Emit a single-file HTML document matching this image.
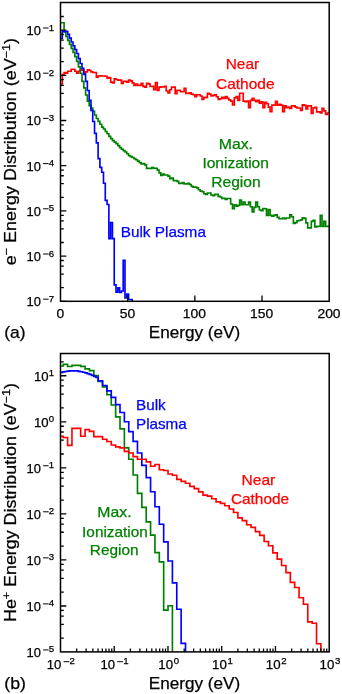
<!DOCTYPE html>
<html><head><meta charset="utf-8"><style>
html,body{margin:0;padding:0;background:#fff;}
svg{display:block;font-family:"Liberation Sans",sans-serif;will-change:transform;}
text{stroke-width:0.25px;}
</style></head><body>
<svg width="342" height="694" viewBox="0 0 342 694">
<rect width="342" height="694" fill="#fff"/>
<clipPath id="ca"><rect x="60.5" y="2.5" width="268.7" height="298.8"/></clipPath>
<clipPath id="cb"><rect x="60.5" y="353.5" width="268.7" height="298.4"/></clipPath>
<path d="M60.5,84 L62.29,84 L62.29,74.5 L64.08,74.5 L64.08,72.5 L65.87,72.5 L65.87,73.2 L67.67,73.2 L67.67,71.2 L69.46,71.2 L69.46,71.2 L71.25,71.2 L71.25,69.2 L73.04,69.2 L73.04,69.2 L74.83,69.2 L74.83,71.2 L76.62,71.2 L76.62,73.2 L78.41,73.2 L78.41,71.2 L80.2,71.2 L80.2,69.9 L82,69.9 L82,70.5 L83.79,70.5 L83.79,73.2 L85.58,73.2 L85.58,71.8 L87.37,71.8 L87.37,69.9 L89.16,69.9 L89.16,70.5 L90.95,70.5 L90.95,71.8 L92.74,71.8 L92.74,72.5 L94.54,72.5 L94.54,72.5 L96.33,72.5 L96.33,77.1 L98.12,77.1 L98.12,76 L99.91,76 L99.91,75.8 L101.7,75.8 L101.7,76 L103.49,76 L103.49,76 L105.28,76 L105.28,76.2 L107.07,76.2 L107.07,78.2 L108.87,78.2 L108.87,77.5 L110.66,77.5 L110.66,82.1 L112.45,82.1 L112.45,82.8 L114.24,82.8 L114.24,78.8 L116.03,78.8 L116.03,79.5 L117.82,79.5 L117.82,80.1 L119.61,80.1 L119.61,80.1 L121.41,80.1 L121.41,83.4 L123.2,83.4 L123.2,81.4 L124.99,81.4 L124.99,81.4 L126.78,81.4 L126.78,82.1 L128.57,82.1 L128.57,80.1 L130.36,80.1 L130.36,80.8 L132.15,80.8 L132.15,82.8 L133.94,82.8 L133.94,85.4 L135.74,85.4 L135.74,84.1 L137.53,84.1 L137.53,85.4 L139.32,85.4 L139.32,85.4 L141.11,85.4 L141.11,83.2 L142.9,83.2 L142.9,86.4 L144.69,86.4 L144.69,87.1 L146.48,87.1 L146.48,83.2 L148.28,83.2 L148.28,83.8 L150.07,83.8 L150.07,86.4 L151.86,86.4 L151.86,86.4 L153.65,86.4 L153.65,89.7 L155.44,89.7 L155.44,82.5 L157.23,82.5 L157.23,90.4 L159.02,90.4 L159.02,87.1 L160.81,87.1 L160.81,86.8 L162.61,86.8 L162.61,86.8 L164.4,86.8 L164.4,86.4 L166.19,86.4 L166.19,91 L167.98,91 L167.98,93 L169.77,93 L169.77,89.7 L171.56,89.7 L171.56,87.1 L173.35,87.1 L173.35,87.1 L175.15,87.1 L175.15,93.7 L176.94,93.7 L176.94,90.4 L178.73,90.4 L178.73,90.4 L180.52,90.4 L180.52,91.7 L182.31,91.7 L182.31,91.7 L184.1,91.7 L184.1,88.2 L185.89,88.2 L185.89,93.4 L187.68,93.4 L187.68,93.4 L189.48,93.4 L189.48,92.8 L191.27,92.8 L191.27,94.1 L193.06,94.1 L193.06,94.7 L194.85,94.7 L194.85,96.7 L196.64,96.7 L196.64,94.7 L198.43,94.7 L198.43,94.7 L200.22,94.7 L200.22,96 L202.02,96 L202.02,99.3 L203.81,99.3 L203.81,97.4 L205.6,97.4 L205.6,97.4 L207.39,97.4 L207.39,93.4 L209.18,93.4 L209.18,94.1 L210.97,94.1 L210.97,96 L212.76,96 L212.76,95.4 L214.55,95.4 L214.55,94.7 L216.35,94.7 L216.35,96.7 L218.14,96.7 L218.14,99.3 L219.93,99.3 L219.93,98.7 L221.72,98.7 L221.72,97.4 L223.51,97.4 L223.51,98.4 L225.3,98.4 L225.3,96.5 L227.09,96.5 L227.09,98.4 L228.89,98.4 L228.89,99.8 L230.68,99.8 L230.68,101.1 L232.47,101.1 L232.47,105 L234.26,105 L234.26,97.8 L236.05,97.8 L236.05,96.5 L237.84,96.5 L237.84,100.4 L239.63,100.4 L239.63,93.2 L241.42,93.2 L241.42,93.2 L243.22,93.2 L243.22,101.1 L245.01,101.1 L245.01,101.7 L246.8,101.7 L246.8,101.1 L248.59,101.1 L248.59,107.7 L250.38,107.7 L250.38,100.4 L252.17,100.4 L252.17,98.4 L253.96,98.4 L253.96,100.4 L255.76,100.4 L255.76,101.7 L257.55,101.7 L257.55,100.4 L259.34,100.4 L259.34,103.1 L261.13,103.1 L261.13,101.7 L262.92,101.7 L262.92,107.7 L264.71,107.7 L264.71,102.4 L266.5,102.4 L266.5,103.7 L268.29,103.7 L268.29,107.1 L270.09,107.1 L270.09,111.7 L271.88,111.7 L271.88,105.1 L273.67,105.1 L273.67,105.1 L275.46,105.1 L275.46,101.2 L277.25,101.2 L277.25,105.1 L279.04,105.1 L279.04,104.4 L280.83,104.4 L280.83,105.1 L282.63,105.1 L282.63,111.7 L284.42,111.7 L284.42,105.8 L286.21,105.8 L286.21,107.7 L288,107.7 L288,107.1 L289.79,107.1 L289.79,108.4 L291.58,108.4 L291.58,105.8 L293.37,105.8 L293.37,105.8 L295.16,105.8 L295.16,107.1 L296.96,107.1 L296.96,108 L298.75,108 L298.75,108 L300.54,108 L300.54,110.4 L302.33,110.4 L302.33,104.9 L304.12,104.9 L304.12,105.4 L305.91,105.4 L305.91,108.9 L307.7,108.9 L307.7,105.9 L309.5,105.9 L309.5,105.9 L311.29,105.9 L311.29,113.4 L313.08,113.4 L313.08,107.9 L314.87,107.9 L314.87,107.4 L316.66,107.4 L316.66,111.9 L318.45,111.9 L318.45,111.9 L320.24,111.9 L320.24,112.9 L322.03,112.9 L322.03,108.4 L323.83,108.4 L323.83,110.9 L325.62,110.9 L325.62,114.4 L327.41,114.4 L327.41,113 L329.2,113" fill="none" stroke="#ff0000" stroke-width="1.65" stroke-linejoin="miter" clip-path="url(#ca)"/>
<path d="M60.5,22.7 L62.29,22.7 L62.29,22.7 L64.08,22.7 L64.08,32.2 L65.87,32.2 L65.87,36.3 L67.67,36.3 L67.67,40.32 L69.46,40.32 L69.46,44.34 L71.25,44.34 L71.25,48.36 L73.04,48.36 L73.04,52.38 L74.83,52.38 L74.83,56.66 L76.62,56.66 L76.62,61.42 L78.41,61.42 L78.41,66.94 L80.2,66.94 L80.2,73.25 L82,73.25 L82,81.32 L83.79,81.32 L83.79,87.84 L85.58,87.84 L85.58,94.97 L87.37,94.97 L87.37,101.29 L89.16,101.29 L89.16,105.68 L90.95,105.68 L90.95,108.07 L92.74,108.07 L92.74,111.32 L94.54,111.32 L94.54,115.02 L96.33,115.02 L96.33,118.47 L98.12,118.47 L98.12,121.39 L99.91,121.39 L99.91,124.23 L101.7,124.23 L101.7,127.1 L103.49,127.1 L103.49,129.04 L105.28,129.04 L105.28,131.54 L107.07,131.54 L107.07,133.77 L108.87,133.77 L108.87,136.33 L110.66,136.33 L110.66,138.67 L112.45,138.67 L112.45,140.62 L114.24,140.62 L114.24,142.09 L116.03,142.09 L116.03,143.56 L117.82,143.56 L117.82,145.57 L119.61,145.57 L119.61,147.63 L121.41,147.63 L121.41,149.21 L123.2,149.21 L123.2,150.6 L124.99,150.6 L124.99,151.99 L126.78,151.99 L126.78,153.77 L128.57,153.77 L128.57,155.57 L130.36,155.57 L130.36,156.63 L132.15,156.63 L132.15,157.52 L133.94,157.52 L133.94,158.57 L135.74,158.57 L135.74,159.72 L137.53,159.72 L137.53,161.05 L139.32,161.05 L139.32,162.65 L141.11,162.65 L141.11,163.86 L142.9,163.86 L142.9,163.64 L144.69,163.64 L144.69,164.92 L146.48,164.92 L146.48,168.3 L148.28,168.3 L148.28,168.3 L150.07,168.3 L150.07,168.3 L151.86,168.3 L151.86,167.6 L153.65,167.6 L153.65,168.2 L155.44,168.2 L155.44,168.2 L157.23,168.2 L157.23,170.1 L159.02,170.1 L159.02,172.8 L160.81,172.8 L160.81,175.4 L162.61,175.4 L162.61,174.1 L164.4,174.1 L164.4,175 L166.19,175 L166.19,175 L167.98,175 L167.98,176.1 L169.77,176.1 L169.77,178.7 L171.56,178.7 L171.56,178 L173.35,178 L173.35,180.7 L175.15,180.7 L175.15,180.5 L176.94,180.5 L176.94,181.3 L178.73,181.3 L178.73,183.3 L180.52,183.3 L180.52,183.3 L182.31,183.3 L182.31,182.6 L184.1,182.6 L184.1,183.9 L185.89,183.9 L185.89,183.9 L187.68,183.9 L187.68,183.3 L189.48,183.3 L189.48,184.5 L191.27,184.5 L191.27,186.4 L193.06,186.4 L193.06,187.1 L194.85,187.1 L194.85,187.1 L196.64,187.1 L196.64,187.8 L198.43,187.8 L198.43,189.7 L200.22,189.7 L200.22,191.1 L202.02,191.1 L202.02,191.7 L203.81,191.7 L203.81,193.7 L205.6,193.7 L205.6,194.3 L207.39,194.3 L207.39,193 L209.18,193 L209.18,193 L210.97,193 L210.97,195 L212.76,195 L212.76,195.7 L214.55,195.7 L214.55,194.3 L216.35,194.3 L216.35,194.3 L218.14,194.3 L218.14,196.3 L219.93,196.3 L219.93,197 L221.72,197 L221.72,198.3 L223.51,198.3 L223.51,198.3 L225.3,198.3 L225.3,199.5 L227.09,199.5 L227.09,198.5 L228.89,198.5 L228.89,198.5 L230.68,198.5 L230.68,204 L232.47,204 L232.47,208.7 L234.26,208.7 L234.26,204.7 L236.05,204.7 L236.05,206.1 L237.84,206.1 L237.84,205.4 L239.63,205.4 L239.63,200.1 L241.42,200.1 L241.42,204.7 L243.22,204.7 L243.22,202.1 L245.01,202.1 L245.01,204.7 L246.8,204.7 L246.8,204.7 L248.59,204.7 L248.59,202.1 L250.38,202.1 L250.38,206.7 L252.17,206.7 L252.17,212 L253.96,212 L253.96,207.4 L255.76,207.4 L255.76,202.1 L257.55,202.1 L257.55,206.7 L259.34,206.7 L259.34,210 L261.13,210 L261.13,210.7 L262.92,210.7 L262.92,208.5 L264.71,208.5 L264.71,208.7 L266.5,208.7 L266.5,215.4 L268.29,215.4 L268.29,209.5 L270.09,209.5 L270.09,215.4 L271.88,215.4 L271.88,216.1 L273.67,216.1 L273.67,215.4 L275.46,215.4 L275.46,214.7 L277.25,214.7 L277.25,217.4 L279.04,217.4 L279.04,218.7 L280.83,218.7 L280.83,218.7 L282.63,218.7 L282.63,218 L284.42,218 L284.42,218.7 L286.21,218.7 L286.21,218 L288,218 L288,218 L289.79,218 L289.79,214.7 L291.58,214.7 L291.58,216.7 L293.37,216.7 L293.37,223.3 L295.16,223.3 L295.16,222.6 L296.96,222.6 L296.96,220.7 L298.75,220.7 L298.75,220.5 L300.54,220.5 L300.54,219.9 L302.33,219.9 L302.33,217.9 L304.12,217.9 L304.12,218.4 L305.91,218.4 L305.91,222.9 L307.7,222.9 L307.7,227.8 L309.5,227.8 L309.5,227.8 L311.29,227.8 L311.29,221.4 L313.08,221.4 L313.08,220.4 L314.87,220.4 L314.87,226.8 L316.66,226.8 L316.66,226.3 L318.45,226.3 L318.45,226.3 L320.24,226.3 L320.24,215.4 L322.03,215.4 L322.03,226.3 L323.83,226.3 L323.83,221.4 L325.62,221.4 L325.62,226.3 L327.41,226.3 L327.41,226.3 L329.2,226.3" fill="none" stroke="#008000" stroke-width="1.65" stroke-linejoin="miter" clip-path="url(#ca)"/>
<path d="M60.5,38.3 L62.29,38.3 L62.29,31.2 L64.08,31.2 L64.08,31.2 L65.87,31.2 L65.87,31.36 L67.67,31.36 L67.67,34.34 L69.46,34.34 L69.46,38.16 L71.25,38.16 L71.25,41.99 L73.04,41.99 L73.04,45.81 L74.83,45.81 L74.83,49.63 L76.62,49.63 L76.62,53.5 L78.41,53.5 L78.41,58.6 L80.2,58.6 L80.2,63.5 L82,63.5 L82,68.4 L83.79,68.4 L83.79,74.3 L85.58,74.3 L85.58,81.4 L87.37,81.4 L87.37,90.5 L89.16,90.5 L89.16,100.3 L90.95,100.3 L90.95,110.3 L92.74,110.3 L92.74,121.5 L94.54,121.5 L94.54,133.4 L96.33,133.4 L96.33,142.8 L98.12,142.8 L98.12,158.6 L99.91,158.6 L99.91,167.4 L101.7,167.4 L101.7,172.2 L103.49,172.2 L103.49,183.2 L105.28,183.2 L105.28,200.3 L107.07,200.3 L107.07,204.5 L108.87,204.5 L108.87,238.6 L110.66,238.6 L110.66,222.5 L112.45,222.5 L112.45,238.6 L114.24,238.6 L114.24,284.9 L116.03,284.9 L116.03,292.1 L117.82,292.1 L117.82,287.9 L119.61,287.9 L119.61,292.5 L121.41,292.5 L121.41,291 L123.2,291 L123.2,260.2 L124.99,260.2 L124.99,298 L126.78,298 L126.78,294 L128.57,294 L128.57,299.5 L130.36,299.5 L130.36,299.5 L132.15,299.5 L132.15,330 L133.94,330" fill="none" stroke="#0000ff" stroke-width="1.65" stroke-linejoin="miter" clip-path="url(#ca)"/>
<path d="M60.5,366 L63.23,366 L63.23,364.4 L67.6,364.4 L67.6,366.5 L71.97,366.5 L71.97,365.3 L76.33,365.3 L76.33,365.3 L80.7,365.3 L80.7,366.4 L85.07,366.4 L85.07,368.8 L89.44,368.8 L89.44,370.6 L93.8,370.6 L93.8,375.5 L98.17,375.5 L98.17,381.3 L102.54,381.3 L102.54,386.8 L106.9,386.8 L106.9,394.7 L111.27,394.7 L111.27,405 L115.64,405 L115.64,416.8 L120,416.8 L120,428.9 L124.37,428.9 L124.37,447.8 L128.74,447.8 L128.74,459.2 L133.1,459.2 L133.1,475 L137.47,475 L137.47,493.4 L141.84,493.4 L141.84,507.4 L146.21,507.4 L146.21,521.9 L150.57,521.9 L150.57,535.1 L154.94,535.1 L154.94,552.6 L159.31,552.6 L159.31,561.8 L163.67,561.8 L163.67,610.1 L168.04,610.1 L168.04,605.7 L172.41,605.7 L172.41,700 L176.77,700" fill="none" stroke="#008000" stroke-width="1.65" stroke-linejoin="miter" clip-path="url(#cb)"/>
<path d="M60.5,372.3 L62.72,372.3 L62.72,371.86 L64.93,371.86 L64.93,371.46 L67.15,371.46 L67.15,371.14 L69.36,371.14 L69.36,370.9 L71.58,370.9 L71.58,370.9 L73.79,370.9 L73.79,370.9 L76.01,370.9 L76.01,370.94 L78.23,370.94 L78.23,371.32 L80.44,371.32 L80.44,371.7 L82.66,371.7 L82.66,372.25 L84.87,372.25 L84.87,372.86 L87.09,372.86 L87.09,373.62 L89.31,373.62 L89.31,374.44 L91.52,374.44 L91.52,375.39 L93.74,375.39 L93.74,376.39 L95.95,376.39 L95.95,377.38 L98.17,377.38 L98.17,378 L98.17,380.9 L102.54,380.9 L102.54,385.5 L106.9,385.5 L106.9,390.8 L111.27,390.8 L111.27,397.4 L115.64,397.4 L115.64,404.6 L120,404.6 L120,412.5 L124.37,412.5 L124.37,421.7 L128.74,421.7 L128.74,431.6 L133.1,431.6 L133.1,441.4 L137.47,441.4 L137.47,453 L141.84,453 L141.84,465.4 L146.21,465.4 L146.21,477.6 L150.57,477.6 L150.57,491.7 L154.94,491.7 L154.94,506.7 L159.31,506.7 L159.31,524.2 L163.67,524.2 L163.67,541.8 L168.04,541.8 L168.04,561 L172.41,561 L172.41,582.9 L176.77,582.9 L176.77,609.2 L181.14,609.2 L181.14,643.4 L185.51,643.4 L185.51,700 L189.88,700" fill="none" stroke="#0000ff" stroke-width="1.65" stroke-linejoin="miter" clip-path="url(#cb)"/>
<path d="M60.5,436.4 L63.23,436.4 L63.23,437.5 L67.6,437.5 L67.6,445.4 L71.97,445.4 L71.97,428.3 L76.33,428.3 L76.33,428.3 L80.7,428.3 L80.7,436.2 L85.07,436.2 L85.07,429.6 L89.44,429.6 L89.44,431.3 L93.8,431.3 L93.8,436.6 L98.17,436.6 L98.17,436.6 L102.54,436.6 L102.54,439.2 L106.9,439.2 L106.9,441.5 L111.27,441.5 L111.27,445 L115.64,445 L115.64,446.8 L120,446.8 L120,447.8 L124.37,447.8 L124.37,451.3 L128.74,451.3 L128.74,453 L133.1,453 L133.1,456.6 L137.47,456.6 L137.47,459.2 L141.84,459.2 L141.84,459.2 L146.21,459.2 L146.21,461.8 L150.57,461.8 L150.57,466.2 L154.94,466.2 L154.94,464.5 L159.31,464.5 L159.31,469.7 L163.67,469.7 L163.67,470.5 L168.04,470.5 L168.04,474 L172.41,474 L172.41,475.2 L176.77,475.2 L176.77,479.44 L181.14,479.44 L181.14,481.37 L185.51,481.37 L185.51,483.26 L189.88,483.26 L189.88,486.35 L194.24,486.35 L194.24,488.69 L198.61,488.69 L198.61,491.84 L202.98,491.84 L202.98,495.05 L207.34,495.05 L207.34,496.11 L211.71,496.11 L211.71,498.73 L216.08,498.73 L216.08,501.8 L220.44,501.8 L220.44,503.32 L224.81,503.32 L224.81,505.74 L229.18,505.74 L229.18,509 L233.55,509 L233.55,512.53 L237.91,512.53 L237.91,517.85 L242.28,517.85 L242.28,520.55 L246.65,520.55 L246.65,524.78 L251.01,524.78 L251.01,527.3 L255.38,527.3 L255.38,531.59 L259.75,531.59 L259.75,535.34 L264.12,535.34 L264.12,541.5 L268.48,541.5 L268.48,545.75 L272.85,545.75 L272.85,552.84 L277.22,552.84 L277.22,559.1 L281.58,559.1 L281.58,565.49 L285.95,565.49 L285.95,572.6 L290.32,572.6 L290.32,582.3 L294.68,582.3 L294.68,587.5 L299.05,587.5 L299.05,597.7 L303.42,597.7 L303.42,604.2 L307.78,604.2 L307.78,621.8 L312.15,621.8 L312.15,623.2 L316.52,623.2 L316.52,643.7 L320.89,643.7 L320.89,700 L325.25,700" fill="none" stroke="#ff0000" stroke-width="1.65" stroke-linejoin="miter" clip-path="url(#cb)"/>
<path d="M60.5,301.3 H66.3 M60.5,287.69 H63.8 M60.5,274.09 H63.8 M60.5,266.13 H63.8 M60.5,260.48 H63.8 M60.5,256.1 H66.3 M60.5,242.49 H63.8 M60.5,228.89 H63.8 M60.5,220.93 H63.8 M60.5,215.28 H63.8 M60.5,210.9 H66.3 M60.5,197.29 H63.8 M60.5,183.69 H63.8 M60.5,175.73 H63.8 M60.5,170.08 H63.8 M60.5,165.7 H66.3 M60.5,152.09 H63.8 M60.5,138.49 H63.8 M60.5,130.53 H63.8 M60.5,124.88 H63.8 M60.5,120.5 H66.3 M60.5,106.89 H63.8 M60.5,93.29 H63.8 M60.5,85.33 H63.8 M60.5,79.68 H63.8 M60.5,75.3 H66.3 M60.5,61.69 H63.8 M60.5,48.09 H63.8 M60.5,40.13 H63.8 M60.5,34.48 H63.8 M60.5,30.1 H66.3 M60.5,16.49 H63.8 M127.67,301.3 V295.5 M194.85,301.3 V295.5 M262.02,301.3 V295.5 M60.5,638.19 H63.8 M60.5,624.33 H63.8 M60.5,616.22 H63.8 M60.5,610.46 H63.8 M60.5,606 H66.3 M60.5,592.14 H63.8 M60.5,578.28 H63.8 M60.5,570.17 H63.8 M60.5,564.41 H63.8 M60.5,559.95 H66.3 M60.5,546.09 H63.8 M60.5,532.23 H63.8 M60.5,524.12 H63.8 M60.5,518.36 H63.8 M60.5,513.9 H66.3 M60.5,500.04 H63.8 M60.5,486.18 H63.8 M60.5,478.07 H63.8 M60.5,472.31 H63.8 M60.5,467.85 H66.3 M60.5,453.99 H63.8 M60.5,440.13 H63.8 M60.5,432.02 H63.8 M60.5,426.26 H63.8 M60.5,421.8 H66.3 M60.5,407.94 H63.8 M60.5,394.08 H63.8 M60.5,385.97 H63.8 M60.5,380.21 H63.8 M60.5,375.75 H66.3 M60.5,361.89 H63.8 M76.68,651.9 V648.6 M86.14,651.9 V648.6 M92.85,651.9 V648.6 M98.06,651.9 V648.6 M102.32,651.9 V648.6 M105.92,651.9 V648.6 M109.03,651.9 V648.6 M111.78,651.9 V648.6 M114.24,651.9 V646.1 M130.42,651.9 V648.6 M139.88,651.9 V648.6 M146.59,651.9 V648.6 M151.8,651.9 V648.6 M156.06,651.9 V648.6 M159.66,651.9 V648.6 M162.77,651.9 V648.6 M165.52,651.9 V648.6 M167.98,651.9 V646.1 M184.16,651.9 V648.6 M193.62,651.9 V648.6 M200.33,651.9 V648.6 M205.54,651.9 V648.6 M209.8,651.9 V648.6 M213.4,651.9 V648.6 M216.51,651.9 V648.6 M219.26,651.9 V648.6 M221.72,651.9 V646.1 M237.9,651.9 V648.6 M247.36,651.9 V648.6 M254.07,651.9 V648.6 M259.28,651.9 V648.6 M263.54,651.9 V648.6 M267.14,651.9 V648.6 M270.25,651.9 V648.6 M273,651.9 V648.6 M275.46,651.9 V646.1 M291.64,651.9 V648.6 M301.1,651.9 V648.6 M307.81,651.9 V648.6 M313.02,651.9 V648.6 M317.28,651.9 V648.6 M320.88,651.9 V648.6 M323.99,651.9 V648.6 M326.74,651.9 V648.6" stroke="#000" stroke-width="1.3" fill="none"/>
<rect x="60.5" y="2.5" width="268.7" height="298.8" fill="none" stroke="#000" stroke-width="1.5"/>
<rect x="60.5" y="353.5" width="268.7" height="298.4" fill="none" stroke="#000" stroke-width="1.5"/>
<text x="26.47" y="306.2" font-size="13.1" fill="#000" stroke="#000" textLength="14.35" lengthAdjust="spacingAndGlyphs">10</text>
<path d="M43.1,299.2 H48.6" stroke="#000" stroke-width="1"/>
<text x="48.87" y="301.7" font-size="9.2" fill="#000" stroke="#000" textLength="5.37" lengthAdjust="spacingAndGlyphs">7</text>
<text x="26.47" y="261" font-size="13.1" fill="#000" stroke="#000" textLength="14.35" lengthAdjust="spacingAndGlyphs">10</text>
<path d="M43.1,254 H48.6" stroke="#000" stroke-width="1"/>
<text x="48.87" y="256.5" font-size="9.2" fill="#000" stroke="#000" textLength="5.37" lengthAdjust="spacingAndGlyphs">6</text>
<text x="26.47" y="215.8" font-size="13.1" fill="#000" stroke="#000" textLength="14.35" lengthAdjust="spacingAndGlyphs">10</text>
<path d="M43.1,208.8 H48.6" stroke="#000" stroke-width="1"/>
<text x="48.78" y="211.3" font-size="9.2" fill="#000" stroke="#000" textLength="5.37" lengthAdjust="spacingAndGlyphs">5</text>
<text x="26.47" y="170.6" font-size="13.1" fill="#000" stroke="#000" textLength="14.35" lengthAdjust="spacingAndGlyphs">10</text>
<path d="M43.1,163.6 H48.6" stroke="#000" stroke-width="1"/>
<text x="48.68" y="166.1" font-size="9.2" fill="#000" stroke="#000" textLength="5.37" lengthAdjust="spacingAndGlyphs">4</text>
<text x="26.47" y="125.4" font-size="13.1" fill="#000" stroke="#000" textLength="14.35" lengthAdjust="spacingAndGlyphs">10</text>
<path d="M43.1,118.4 H48.6" stroke="#000" stroke-width="1"/>
<text x="48.87" y="120.9" font-size="9.2" fill="#000" stroke="#000" textLength="5.37" lengthAdjust="spacingAndGlyphs">3</text>
<text x="26.47" y="80.2" font-size="13.1" fill="#000" stroke="#000" textLength="14.35" lengthAdjust="spacingAndGlyphs">10</text>
<path d="M43.1,73.2 H48.6" stroke="#000" stroke-width="1"/>
<text x="48.87" y="75.7" font-size="9.2" fill="#000" stroke="#000" textLength="5.37" lengthAdjust="spacingAndGlyphs">2</text>
<text x="26.47" y="35" font-size="13.1" fill="#000" stroke="#000" textLength="14.35" lengthAdjust="spacingAndGlyphs">10</text>
<path d="M43.1,28 H48.6" stroke="#000" stroke-width="1"/>
<text x="48.87" y="30.5" font-size="9.2" fill="#000" stroke="#000" textLength="5.37" lengthAdjust="spacingAndGlyphs">1</text>
<text x="26.47" y="656.95" font-size="13.1" fill="#000" stroke="#000" textLength="14.35" lengthAdjust="spacingAndGlyphs">10</text>
<path d="M43.1,649.95 H48.6" stroke="#000" stroke-width="1"/>
<text x="48.78" y="652.45" font-size="9.2" fill="#000" stroke="#000" textLength="5.37" lengthAdjust="spacingAndGlyphs">5</text>
<text x="26.47" y="610.9" font-size="13.1" fill="#000" stroke="#000" textLength="14.35" lengthAdjust="spacingAndGlyphs">10</text>
<path d="M43.1,603.9 H48.6" stroke="#000" stroke-width="1"/>
<text x="48.68" y="606.4" font-size="9.2" fill="#000" stroke="#000" textLength="5.37" lengthAdjust="spacingAndGlyphs">4</text>
<text x="26.47" y="564.85" font-size="13.1" fill="#000" stroke="#000" textLength="14.35" lengthAdjust="spacingAndGlyphs">10</text>
<path d="M43.1,557.85 H48.6" stroke="#000" stroke-width="1"/>
<text x="48.87" y="560.35" font-size="9.2" fill="#000" stroke="#000" textLength="5.37" lengthAdjust="spacingAndGlyphs">3</text>
<text x="26.47" y="518.8" font-size="13.1" fill="#000" stroke="#000" textLength="14.35" lengthAdjust="spacingAndGlyphs">10</text>
<path d="M43.1,511.8 H48.6" stroke="#000" stroke-width="1"/>
<text x="48.87" y="514.3" font-size="9.2" fill="#000" stroke="#000" textLength="5.37" lengthAdjust="spacingAndGlyphs">2</text>
<text x="26.47" y="472.75" font-size="13.1" fill="#000" stroke="#000" textLength="14.35" lengthAdjust="spacingAndGlyphs">10</text>
<path d="M43.1,465.75 H48.6" stroke="#000" stroke-width="1"/>
<text x="48.87" y="468.25" font-size="9.2" fill="#000" stroke="#000" textLength="5.37" lengthAdjust="spacingAndGlyphs">1</text>
<text x="33.94" y="426.7" font-size="13.1" fill="#000" stroke="#000" textLength="14.68" lengthAdjust="spacingAndGlyphs">10</text>
<text x="48.78" y="422.2" font-size="9.2" fill="#000" stroke="#000" textLength="5.37" lengthAdjust="spacingAndGlyphs">0</text>
<text x="33.94" y="380.65" font-size="13.1" fill="#000" stroke="#000" textLength="14.68" lengthAdjust="spacingAndGlyphs">10</text>
<text x="48.87" y="376.15" font-size="9.2" fill="#000" stroke="#000" textLength="5.37" lengthAdjust="spacingAndGlyphs">1</text>
<text x="46.65" y="668.6" font-size="13.1" fill="#000" stroke="#000" textLength="14.57" lengthAdjust="spacingAndGlyphs">10</text>
<path d="M63.5,661.7 H69.3" stroke="#000" stroke-width="1"/>
<text x="69.57" y="663.8" font-size="9.2" fill="#000" stroke="#000" textLength="5.37" lengthAdjust="spacingAndGlyphs">2</text>
<text x="100.39" y="668.6" font-size="13.1" fill="#000" stroke="#000" textLength="14.57" lengthAdjust="spacingAndGlyphs">10</text>
<path d="M117.24,661.7 H123.04" stroke="#000" stroke-width="1"/>
<text x="123.31" y="663.8" font-size="9.2" fill="#000" stroke="#000" textLength="5.37" lengthAdjust="spacingAndGlyphs">1</text>
<text x="158.32" y="668.6" font-size="13.1" fill="#000" stroke="#000" textLength="14.79" lengthAdjust="spacingAndGlyphs">10</text>
<text x="173.66" y="663.8" font-size="9.2" fill="#000" stroke="#000" textLength="5.37" lengthAdjust="spacingAndGlyphs">0</text>
<text x="212.06" y="668.6" font-size="13.1" fill="#000" stroke="#000" textLength="14.79" lengthAdjust="spacingAndGlyphs">10</text>
<text x="227.49" y="663.8" font-size="9.2" fill="#000" stroke="#000" textLength="5.37" lengthAdjust="spacingAndGlyphs">1</text>
<text x="265.8" y="668.6" font-size="13.1" fill="#000" stroke="#000" textLength="14.79" lengthAdjust="spacingAndGlyphs">10</text>
<text x="281.23" y="663.8" font-size="9.2" fill="#000" stroke="#000" textLength="5.37" lengthAdjust="spacingAndGlyphs">2</text>
<text x="319.54" y="668.6" font-size="13.1" fill="#000" stroke="#000" textLength="14.79" lengthAdjust="spacingAndGlyphs">10</text>
<text x="334.97" y="663.8" font-size="9.2" fill="#000" stroke="#000" textLength="5.37" lengthAdjust="spacingAndGlyphs">3</text>
<text x="56.52" y="317.5" font-size="13.1" fill="#000" stroke="#000" textLength="7.71" lengthAdjust="spacingAndGlyphs">0</text>
<text x="119.81" y="317.5" font-size="13.1" fill="#000" stroke="#000" textLength="15.43" lengthAdjust="spacingAndGlyphs">50</text>
<text x="182.89" y="317.5" font-size="13.1" fill="#000" stroke="#000" textLength="23.14" lengthAdjust="spacingAndGlyphs">100</text>
<text x="250.07" y="317.5" font-size="13.1" fill="#000" stroke="#000" textLength="23.14" lengthAdjust="spacingAndGlyphs">150</text>
<text x="317.45" y="317.5" font-size="13.1" fill="#000" stroke="#000" textLength="23.14" lengthAdjust="spacingAndGlyphs">200</text>
<text x="148.73" y="338" font-size="16.4" fill="#000" stroke="#000" textLength="91.49" lengthAdjust="spacingAndGlyphs">Energy (eV)</text>
<text x="148.73" y="688.7" font-size="16.4" fill="#000" stroke="#000" textLength="91.49" lengthAdjust="spacingAndGlyphs">Energy (eV)</text>
<text x="4.25" y="338.3" font-size="16.4" fill="#000" stroke="#000" textLength="21.44" lengthAdjust="spacingAndGlyphs">(a)</text>
<text x="4.24" y="689" font-size="16.4" fill="#000" stroke="#000" textLength="21.66" lengthAdjust="spacingAndGlyphs">(b)</text>
<text transform="translate(15.9,264.5) rotate(-90)" x="-0.72" y="0" font-size="16.4" fill="#000" stroke="#000" textLength="227.25" lengthAdjust="spacingAndGlyphs"><tspan font-size="16.4" dy="0">e</tspan><tspan font-size="11.48" dy="-6">−</tspan><tspan font-size="16.4" dy="6">&#160;Energy&#160;Distribution&#160;(eV</tspan><tspan font-size="11.48" dy="-6">−1</tspan><tspan font-size="16.4" dy="6">)</tspan></text>
<text transform="translate(15.9,620.6) rotate(-90)" x="-1.43" y="0" font-size="16.4" fill="#000" stroke="#000" textLength="238.95" lengthAdjust="spacingAndGlyphs"><tspan font-size="16.4" dy="0">He</tspan><tspan font-size="11.48" dy="-6">+</tspan><tspan font-size="16.4" dy="6">&#160;Energy&#160;Distribution&#160;(eV</tspan><tspan font-size="11.48" dy="-6">−1</tspan><tspan font-size="16.4" dy="6">)</tspan></text>
<text x="225.66" y="69.3" font-size="15" fill="#ff0000" stroke="#ff0000" textLength="33.5" lengthAdjust="spacingAndGlyphs">Near</text>
<text x="216.03" y="88.6" font-size="15" fill="#ff0000" stroke="#ff0000" textLength="58.56" lengthAdjust="spacingAndGlyphs">Cathode</text>
<text x="218.74" y="148.8" font-size="15" fill="#008000" stroke="#008000" textLength="34.24" lengthAdjust="spacingAndGlyphs">Max.</text>
<text x="202.4" y="168.2" font-size="15" fill="#008000" stroke="#008000" textLength="66.49" lengthAdjust="spacingAndGlyphs">Ionization</text>
<text x="211.15" y="186.9" font-size="15" fill="#008000" stroke="#008000" textLength="49.63" lengthAdjust="spacingAndGlyphs">Region</text>
<text x="120.67" y="237.4" font-size="15" fill="#0000ff" stroke="#0000ff" textLength="85.29" lengthAdjust="spacingAndGlyphs">Bulk Plasma</text>
<text x="135.98" y="410.1" font-size="15" fill="#0000ff" stroke="#0000ff" textLength="29.75" lengthAdjust="spacingAndGlyphs">Bulk</text>
<text x="135.98" y="429.3" font-size="15" fill="#0000ff" stroke="#0000ff" textLength="50.83" lengthAdjust="spacingAndGlyphs">Plasma</text>
<text x="241.45" y="484.9" font-size="15" fill="#ff0000" stroke="#ff0000" textLength="33.82" lengthAdjust="spacingAndGlyphs">Near</text>
<text x="230.93" y="504.3" font-size="15" fill="#ff0000" stroke="#ff0000" textLength="58.15" lengthAdjust="spacingAndGlyphs">Cathode</text>
<text x="97.34" y="516.8" font-size="15" fill="#008000" stroke="#008000" textLength="34.24" lengthAdjust="spacingAndGlyphs">Max.</text>
<text x="82.12" y="536.5" font-size="15" fill="#008000" stroke="#008000" textLength="65.66" lengthAdjust="spacingAndGlyphs">Ionization</text>
<text x="89.87" y="554.9" font-size="15" fill="#008000" stroke="#008000" textLength="48.79" lengthAdjust="spacingAndGlyphs">Region</text>
</svg>
</body></html>
